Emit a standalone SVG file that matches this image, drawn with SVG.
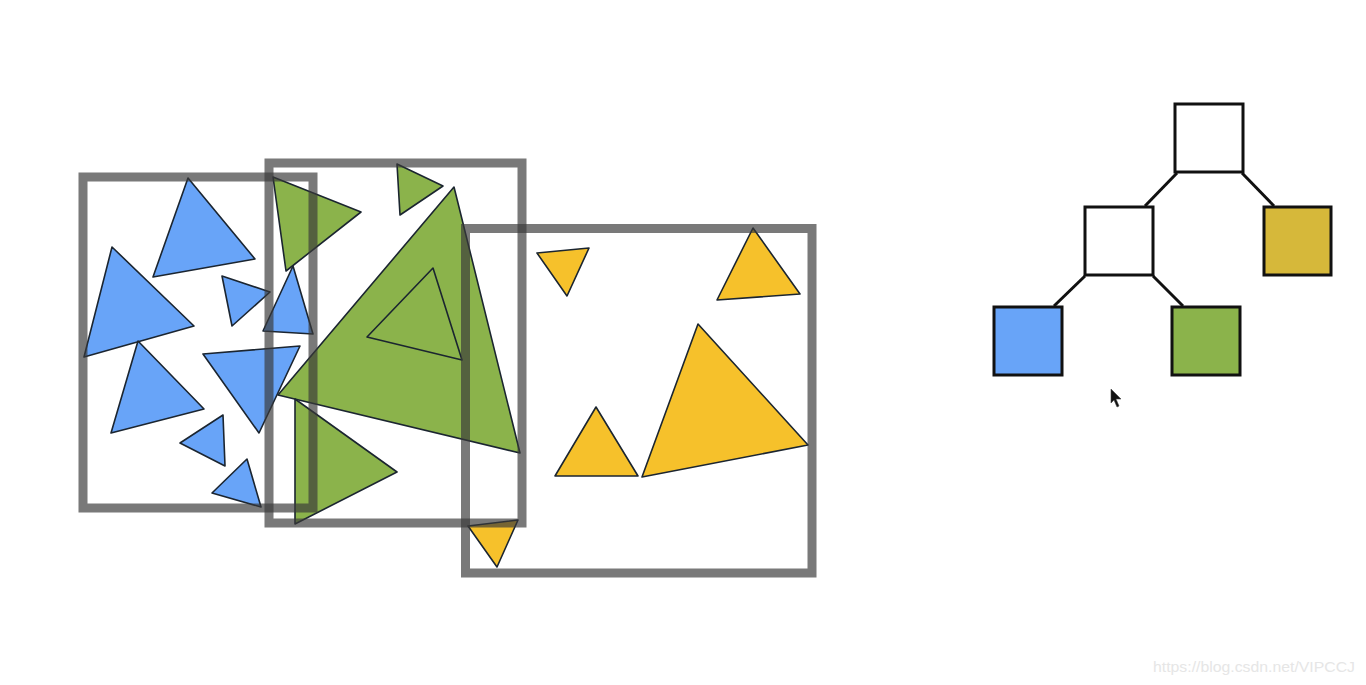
<svg xmlns="http://www.w3.org/2000/svg" width="1366" height="685" viewBox="0 0 1366 685">
<style>
.tri{stroke:#1b2530;stroke-width:1.6;stroke-linejoin:round}
.b{fill:#68a4f8}
.g{fill:#8bb34b}
.y{fill:#f6c12b}
.box{fill:none;stroke:#3a3a3a;stroke-opacity:0.68;stroke-width:9}
.node{stroke:#111;stroke-width:3}
.edge{stroke:#111;stroke-width:3;fill:none}
.wm{font-family:"Liberation Sans",Arial,sans-serif;font-size:15px;fill:#e6e6e6}
</style>
<rect width="1366" height="685" fill="#ffffff"/>
<g id="blue-triangles">
<polygon class="tri b" points="188,178 255,259 153,277"/>
<polygon class="tri b" points="112,247 194,326 84,357"/>
<polygon class="tri b" points="222,276 270,292 232,326"/>
<polygon class="tri b" points="293,266 313,334 263,331"/>
<polygon class="tri b" points="203,354 300,346 259,433"/>
<polygon class="tri b" points="138,341 204,409 111,433"/>
<polygon class="tri b" points="223,415 225,466 180,443"/>
<polygon class="tri b" points="247,459 261,507 212,493"/>
</g>
<g id="green-triangles">
<polygon class="tri g" points="273,177 361,212 286,271"/>
<polygon class="tri g" points="397,164 443,186 400,215"/>
<polygon class="tri g" points="454,187 520,453 278,395"/>
<polygon class="tri g" points="433,268 462,360 367,337"/>
<polygon class="tri g" points="295,399 397,472 295,524"/>
</g>
<g id="yellow-triangles">
<polygon class="tri y" points="537,253 589,248 567,296"/>
<polygon class="tri y" points="753,228 800,294 717,300"/>
<polygon class="tri y" points="698,324 808,445 642,477"/>
<polygon class="tri y" points="596,407 638,476 555,476"/>
<polygon class="tri y" points="468,526 518,520 497,567"/>
</g>
<g id="bounding-boxes">
<rect class="box" x="83" y="177" width="230" height="331"/>
<rect class="box" x="269" y="163" width="253" height="360"/>
<rect class="box" x="465.5" y="228.5" width="346.5" height="344.5"/>
</g>
<g id="connectors">
<line class="edge" x1="1177" y1="173" x2="1145" y2="206"/>
<line class="edge" x1="1242" y1="173" x2="1274" y2="206"/>
<line class="edge" x1="1085" y1="276" x2="1054" y2="306"/>
<line class="edge" x1="1153" y1="276" x2="1183" y2="306"/>
</g>
<g id="node-root"><rect class="node" x="1175" y="104" width="68" height="68" fill="#ffffff"/></g>
<g id="node-mid"><rect class="node" x="1085" y="207" width="68" height="68" fill="#ffffff"/></g>
<g id="node-yellow"><rect class="node" x="1264" y="207" width="67" height="68" fill="#d6b83a"/></g>
<g id="node-blue"><rect class="node" x="994" y="307" width="68" height="68" fill="#68a4f8"/></g>
<g id="node-green"><rect class="node" x="1172" y="307" width="68" height="68" fill="#8bb34b"/></g>
<g id="cursor">
<polygon points="1111,389 1111,403 1114,400 1117,407 1119,406 1116,399 1121,399" fill="#111" stroke="#444" stroke-width="0.6"/>
</g>
<text class="wm" x="1153" y="672" textLength="202" lengthAdjust="spacingAndGlyphs">https://blog.csdn.net/VIPCCJ</text>
</svg>
